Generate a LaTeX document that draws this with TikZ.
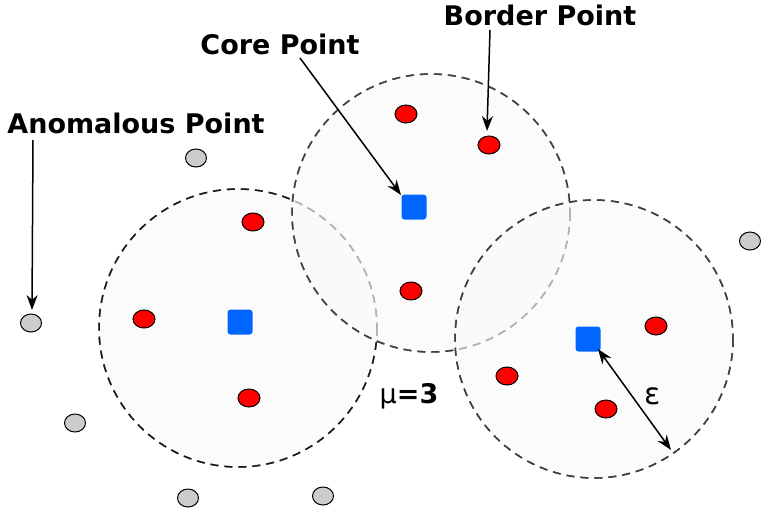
\documentclass[tikz,border=0pt]{standalone}
\usepackage{fontspec}
\setmainfont{DejaVu Sans}
\usetikzlibrary{arrows.meta,shapes.geometric}
\begin{document}
\begin{tikzpicture}[x=1pt,y=-1pt,
 zone/.style={draw=black!75,dash pattern=on 8pt off 6pt,line width=1.5pt,fill=gray!5,fill opacity=0.6,draw opacity=1},
 dz/.style={dash pattern=on 8pt off 6pt,line width=1.5pt},
 gp/.style={ellipse,draw=black,fill=gray!40,minimum width=21pt,minimum height=18pt,inner sep=0pt,line width=1pt},
 rp/.style={ellipse,draw=black,fill=red,minimum width=22pt,minimum height=18pt,inner sep=0pt,line width=1pt},
 bp/.style={rectangle,rounded corners=3pt,fill={rgb,255:red,0;green,102;blue,255},minimum size=25pt,inner sep=0pt},
 lab/.style={font=\bfseries\fontsize{27}{30}\selectfont},
 arr/.style={-{Stealth[length=15pt,width=11pt]},line width=1.5pt}]
\path[use as bounding box] (0,0) rectangle (768,517);
\draw[zone] (238,328) circle (139);
\draw[zone] (431,213) circle (139);
\draw[zone] (594,339) circle (139);
\draw[draw=black!30,dz] (238,328) circle (139);
\draw[draw=black!30,dz] (431,213) circle (139);
\begin{scope}[even odd rule]
\clip (0,0) rectangle (768,517) (431,213) circle (139);
\draw[draw=black!90,dz] (238,328) circle (139);
\end{scope}
\begin{scope}[even odd rule]
\clip (0,0) rectangle (768,517) (594,339) circle (139);
\draw[draw=black!75,dz] (431,213) circle (139);
\end{scope}
\draw[draw=black!75,dz] (594,339) circle (139);

\node[gp] (g1) at (196,158) {};
\node[gp] (g2) at (750,241) {};
\node[gp] (g3) at (31,323) {};
\node[gp] (g4) at (75,423) {};
\node[gp] (g5) at (188,498) {};
\node[gp] (g6) at (323,496) {};
\node[rp] (r1) at (406,114) {};
\node[rp] (r2) at (489,145) {};
\node[rp] (r3) at (253,222) {};
\node[rp] (r4) at (144,319) {};
\node[rp] (r5) at (411,291) {};
\node[rp] (r6) at (249,398) {};
\node[rp] (r7) at (656,326) {};
\node[rp] (r8) at (507,376) {};
\node[rp] (r9) at (606,409) {};
\node[bp] (b1) at (414,207) {};
\node[bp] (b2) at (240,322) {};
\node[bp] (b3) at (588,339) {};

\node[lab] (core) at (280,44) {Core Point};
\node[lab] (border) at (540,15) {Border Point};
\node[lab] (anom) at (136,123) {Anomalous Point};
\coordinate (ce) at (401,195);
\coordinate (be) at (487,131);
\coordinate (ae) at (32,310);
\draw[arr] (300,58) -- (ce);
\draw[arr] (490,30) -- (be);
\draw[arr] (33,140) -- (ae);
\coordinate (e1) at (598,349);
\coordinate (e2) at (671,450);
\draw[{Stealth[length=15pt,width=11pt]}-{Stealth[length=15pt,width=11pt]},line width=1.5pt] (e1) -- (e2);
\node[font=\fontsize{30}{32}\selectfont] (eps) at (653,396) {ε};
\node[font=\fontsize{27}{30}\selectfont] (mu) at (409,396) {μ\textbf{=3}};
\end{tikzpicture}
\end{document}
